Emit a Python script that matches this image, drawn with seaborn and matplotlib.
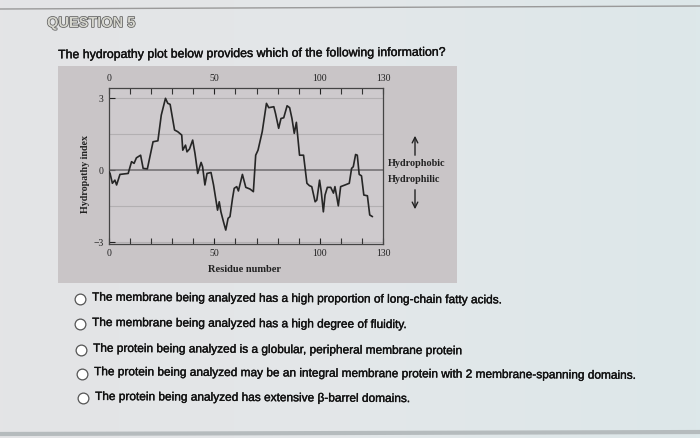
import matplotlib
matplotlib.use("Agg")
import matplotlib.pyplot as plt
import matplotlib.patheffects as pe
import seaborn as sns
import numpy as np
import pandas as pd
from matplotlib.ticker import MultipleLocator, FixedLocator
from matplotlib.colors import LinearSegmentedColormap

# ---- data ----
residue = [0, 0.5, 1.6, 2.8, 3.6, 5.2, 9.1, 10.7, 11.9, 13, 15, 16.2, 18.2, 20.9, 23.2,
           24.8, 26.8, 27.9, 29, 31.1, 32.6, 34.5, 35, 36.3, 37, 38.2, 39.7, 40.8, 42.1,
           43.7, 44.4, 45.5, 46.5, 48.4, 49.6, 51.5, 52.3, 53.1, 54.3, 55.4, 56.5, 57.4,
           58.6, 59.4, 60.6, 61.4, 63.3, 64.9, 66.9, 68.5, 69.6, 70.7, 72.7, 74.7, 75.8,
           78.2, 79, 80.5, 81.6, 82.9, 84.5, 85.7, 86.8, 87.9, 88.9, 90.4, 92.3, 93.9,
           95.1, 96.2, 97.8, 98.6, 99.9, 100.7, 101.7, 102.5, 103.6, 105.2, 106.5, 107.2,
           108.8, 109.9, 112, 114, 115.1, 115.9, 117, 117.8, 118.7, 119.8, 120.9, 122.6,
           123.7, 125]
hydropathy = [-0.07, -0.14, -0.55, -0.42, -0.62, -0.18, -0.14, 0.35, 0.28, 0.51, 0.62, 0.07,
              0.05, 1.18, 1.22, 2.29, 2.99, 2.78, 2.74, 1.67, 1.6, 1.46, 0.83, 1.04, 0.76,
              0.88, 1.25, 0.69, -0.14, 0.32, 0.14, -0.62, -0.14, -0.1, -0.62, -1.67, -1.32,
              -1.74, -2.15, -2.5, -2.01, -1.94, -1.18, -0.76, -0.69, -0.87, -0.18, -0.72,
              -0.79, -0.9, 0.62, 0.83, 1.6, 2.78, 2.6, 2.64, 2.36, 1.74, 2.15, 2.18, 2.68,
              2.6, 2.15, 1.53, 1.99, 0.62, 0.62, -0.55, -0.65, -0.69, -1.32, -1.25, -0.42,
              -0.9, -1.74, -1.04, -0.72, -0.72, -0.96, -0.69, -1.49, -0.69, -0.62, -0.55,
              0.07, 0.14, 0.65, 0.62, -0.18, -0.24, -1.04, -1.07, -1.87, -1.94]
x_tick_labels = [0, 50, 100, 130]
y_tick_labels = [3, 0, -3]
grid_levels = [3, 1.5, -1.5, -3]

title_text = "QUESTION 5"
question_text = "The hydropathy plot below provides which of the following information?"
options = [
    "The membrane being analyzed has a high proportion of long-chain fatty acids.",
    "The membrane being analyzed has a high degree of fluidity.",
    "The protein being analyzed is a globular, peripheral membrane protein",
    "The protein being analyzed may be an integral membrane protein with 2 membrane-spanning domains.",
    "The protein being analyzed has extensive \u03b2-barrel domains.",
]

df = pd.DataFrame({"Residue number": residue, "Hydropathy index": hydropathy})

sns.set_style("white")
plt.rcParams["font.family"] = ["Liberation Sans", "DejaVu Sans"]

W, H = 700, 438
fig = plt.figure(figsize=(7, 4.38), dpi=100)
fig.patch.set_facecolor("#e5e6e8")

# background axes in pixel coordinates
bg = fig.add_axes([0, 0, 1, 1], zorder=0)
bg.set_xlim(0, W)
bg.set_ylim(H, 0)
bg.axis("off")
grad = np.linspace(0, 1, 200)[None, :] * np.ones((50, 1))
cm = LinearSegmentedColormap.from_list("bgc", ["#e4e4e6", "#e3e7e9", "#dde8ea"])
bg.imshow(grad, extent=(0, W, H, 0), cmap=cm, aspect="auto", zorder=0)
bg.plot([0, 700], [9, 6], color="#9a9a9a", lw=1.0, zorder=1)
bg.plot([0, 700], [434, 432], color="#b5bbbd", lw=3, zorder=1)
bg.add_patch(plt.Rectangle((58, 66), 399, 217, facecolor="#c9c5c7", edgecolor="none", zorder=1))

bg.text(47, 23, title_text, fontsize=10.5, fontweight="bold", color="#d6d6ce",
        va="center", ha="left", zorder=2,
        path_effects=[pe.withStroke(linewidth=1.0, foreground="#555555")])
thick = [pe.withStroke(linewidth=0.25, foreground="#111111")]
bg.text(58, 54, question_text, fontsize=8.9, color="#111111", va="center", ha="left",
        rotation=0.4, zorder=2, path_effects=thick)

opt_y = [299, 324, 350, 374, 398]
opt_cx = [80, 80, 81, 82, 83]
for t, y, cx in zip(options, opt_y, opt_cx):
    bg.scatter([cx], [y], s=60, facecolor="white", edgecolor="#555555", linewidth=0.9, zorder=3)
    bg.text(cx + 12, y, t, fontsize=8.55, color="#111111", va="center", ha="left",
            rotation=-0.4, zorder=2, path_effects=thick)

serif = ["Liberation Serif", "DejaVu Serif"]
bg.text(86, 174, "Hydropathy index", rotation=90, fontsize=7.2, family=serif,
        fontweight="bold", color="#222222", ha="center", va="center", zorder=2)
bg.text(244, 270, "Residue number", fontsize=7.5, family=serif,
        fontweight="bold", color="#222222", ha="center", va="center", zorder=2)
bg.text(388, 163, "Hydrophobic", fontsize=7.3, family=serif, fontweight="bold",
        color="#222222", ha="left", va="center", zorder=2)
bg.text(388, 179, "Hydrophilic", fontsize=7.3, family=serif, fontweight="bold",
        color="#222222", ha="left", va="center", zorder=2)
bg.annotate("", xy=(415, 133), xytext=(415, 158),
            arrowprops=dict(arrowstyle="->", color="#222222", lw=1.0), zorder=2)
bg.annotate("", xy=(415, 212), xytext=(415, 187),
            arrowprops=dict(arrowstyle="->", color="#222222", lw=1.0), zorder=2)

# hydropathy plot axes
x0, x1, ytop, ybot = 109, 383, 88, 244
ax = fig.add_axes([x0 / W, 1 - ybot / H, (x1 - x0) / W, (ybot - ytop) / H], zorder=1)
ax.set_facecolor("#cecacd")
for lv in grid_levels:
    ax.axhline(lv, color="#b3b0b2", lw=0.8, zorder=0)
ax.axhline(0, color="#6e6c6e", lw=1.1, zorder=1)
sns.lineplot(data=df, x="Residue number", y="Hydropathy index", ax=ax,
             color="#262626", lw=1.2, zorder=3)
ax.set_xlim(0, 130)
ax.set_ylim(-3.08, 3.42)
ax.set_xlabel("")
ax.set_ylabel("")
ax.xaxis.set_major_locator(FixedLocator(x_tick_labels))
ax.xaxis.set_minor_locator(MultipleLocator(10))
ax.yaxis.set_major_locator(FixedLocator(y_tick_labels))
ax.set_yticklabels(["3", "0", "\u22123"])
ax.tick_params(axis="x", which="major", top=True, bottom=True, labeltop=True,
               labelbottom=True, direction="in", length=4, width=0.8, pad=3.5,
               labelsize=7, colors="#222222", labelfontfamily="Liberation Serif")
ax.tick_params(axis="x", which="minor", top=True, bottom=True, direction="in",
               length=4, width=0.8, color="#333333")
ax.tick_params(axis="y", which="major", left=True, direction="in", length=4,
               width=0.8, pad=4, labelsize=7, colors="#222222",
               labelfontfamily="Liberation Serif")
for s in ax.spines.values():
    s.set_color("#444444")
    s.set_linewidth(0.9)

fig.savefig("out.png", dpi=100, facecolor=fig.get_facecolor())
